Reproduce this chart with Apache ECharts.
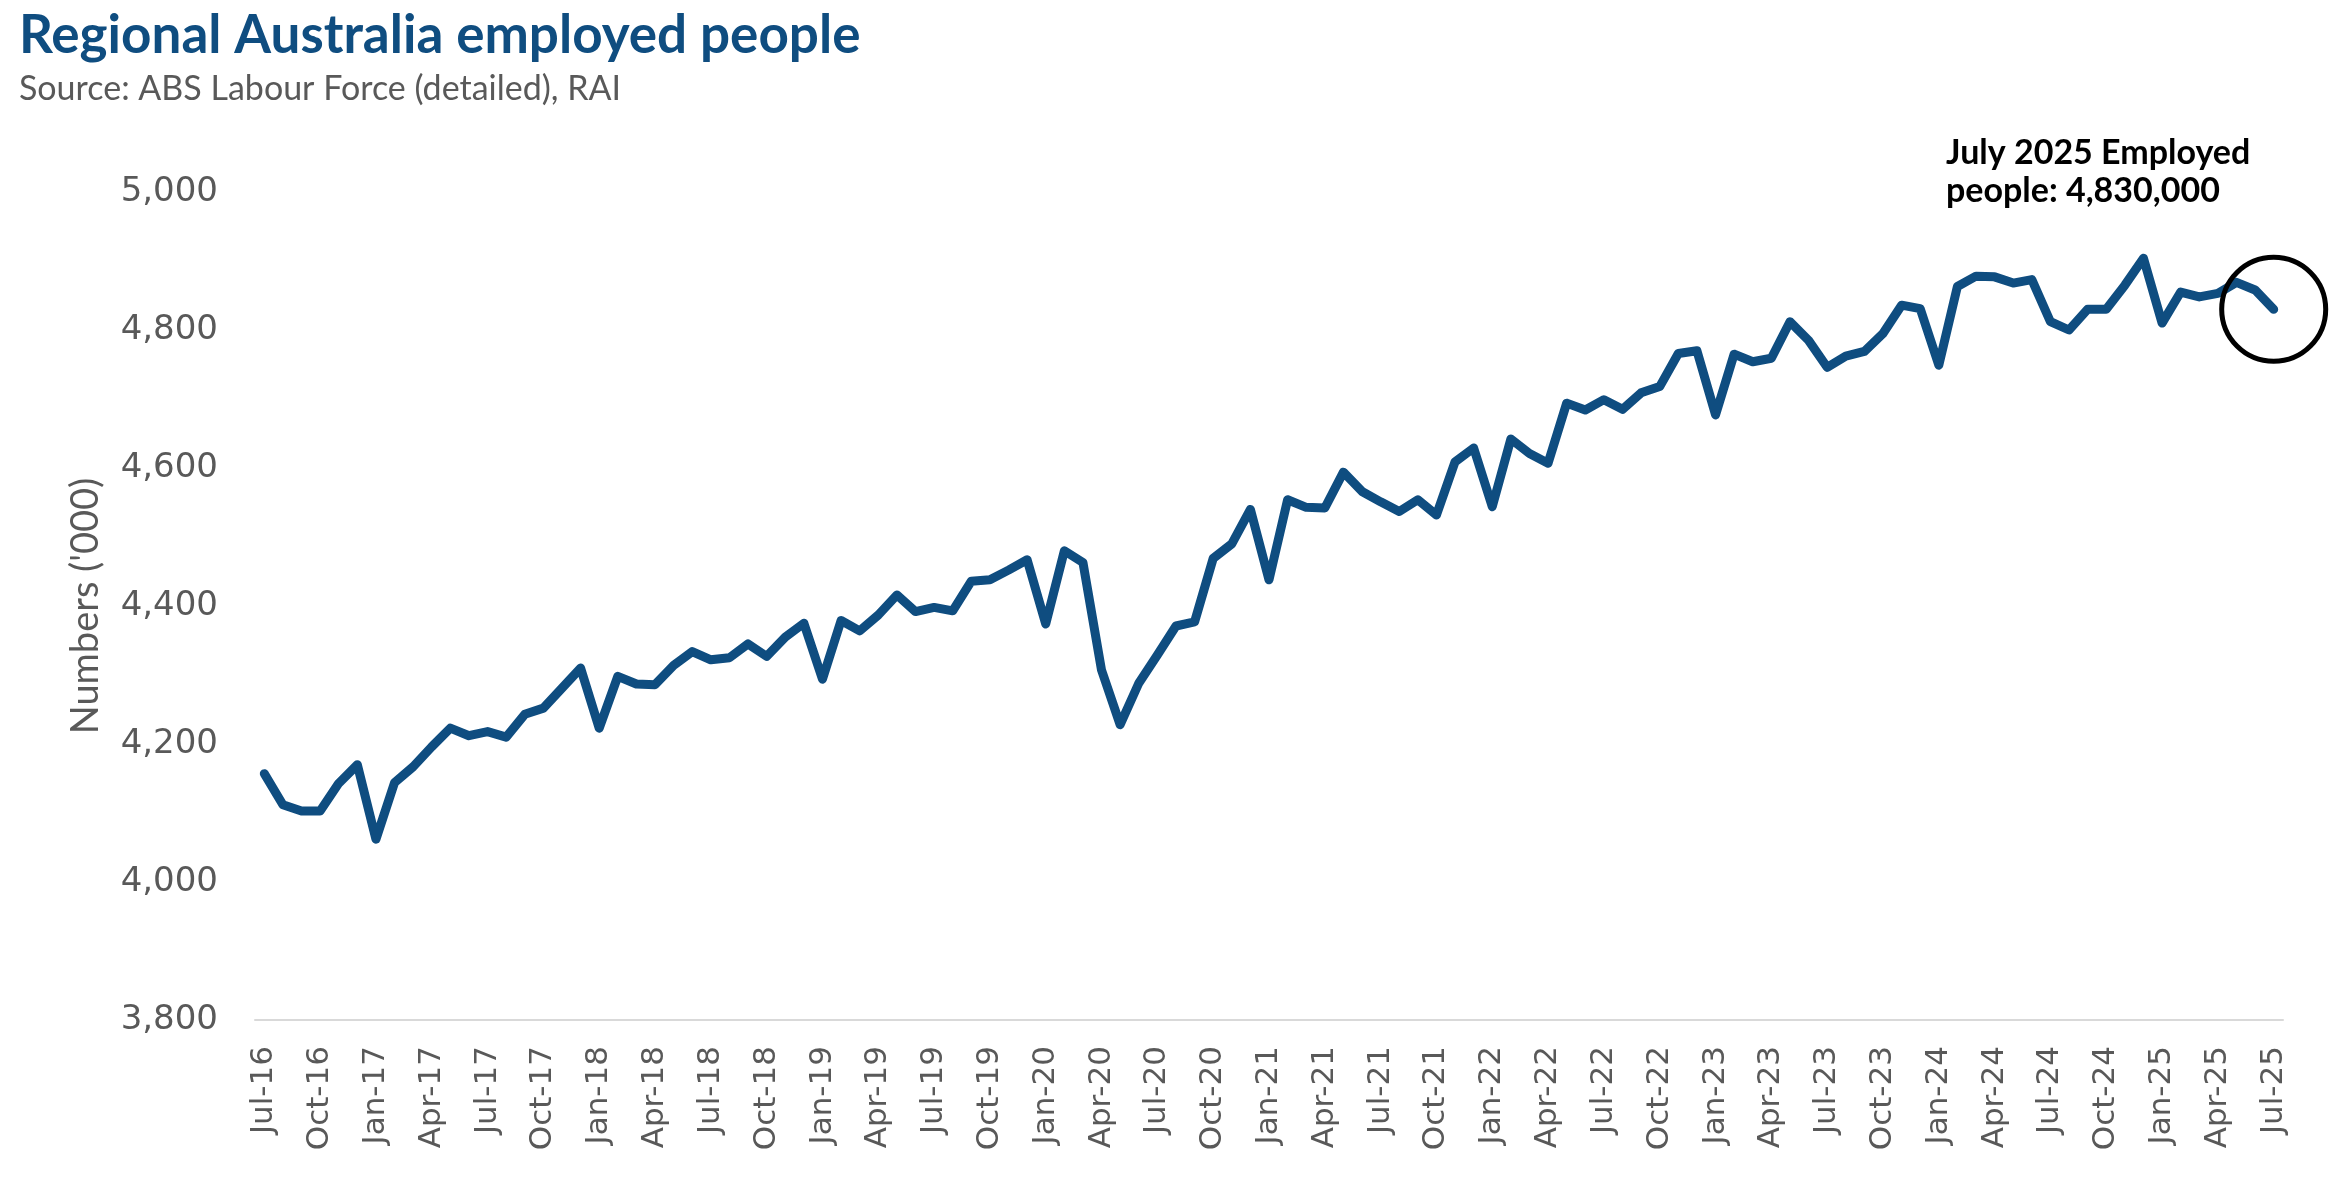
<!DOCTYPE html>
<html>
<head>
<meta charset="utf-8">
<script src="https://cdn.jsdelivr.net/npm/echarts@6/dist/echarts.min.js"></script>
<style>
  html, body { margin: 0; padding: 0; background: #fff; }
  #chart { width: 2336px; height: 1194px; }
</style>
</head>
<body>
<div id="chart"></div>
<script>
// month labels, Jul-16 .. Jul-25
const monthNames = ['Jan','Feb','Mar','Apr','May','Jun','Jul','Aug','Sep','Oct','Nov','Dec']
const startYear = 2016, startMonth = 6, monthCount = 109

// employed people ('000), regional Australia
const employed = [
  4157, 4112, 4103, 4103, 4143, 4170, 4062, 4144, 4167, 4196,
  4223, 4212, 4218, 4210, 4243, 4252, 4281, 4310, 4223, 4298,
  4287, 4286, 4314, 4334, 4322, 4325, 4345, 4327, 4355, 4375,
  4294, 4379, 4364, 4387, 4416, 4392, 4398, 4393, 4436, 4438,
  4452, 4467, 4374, 4480, 4463, 4307, 4228, 4288, 4329, 4371,
  4377, 4469, 4490, 4540, 4438, 4554, 4543, 4542, 4594, 4566,
  4551, 4537, 4554, 4532, 4609, 4629, 4544, 4642, 4621, 4607,
  4694, 4684, 4699, 4685, 4709, 4718, 4766, 4770, 4677, 4765,
  4754, 4759, 4812, 4785, 4746, 4762, 4769, 4795, 4836, 4831,
  4749, 4863, 4878, 4877, 4868, 4873, 4812, 4800, 4830, 4830,
  4865, 4904, 4810, 4855, 4848, 4853, 4869, 4858, 4830
]

const yMin = 3800, yMax = 5000, yStep = 200

const categories = []
for (let i = 0; i < monthCount; i++) {
  const m = (startMonth + i) % 12
  const y = startYear + Math.floor((startMonth + i) / 12)
  categories.push(monthNames[m] + '-' + String(y).slice(2))
}

const blue = '#0f4d80', grey = '#595959'
const chart = echarts.init(document.getElementById('chart'))

const option = {
  animation: false,
  backgroundColor: '#fff',
  title: {
    text: 'Regional Australia employed people',
    subtext: 'Source: ABS Labour Force (detailed), RAI',
    left: 14,
    top: 4,
    itemGap: 10,
    textStyle: {
      fontFamily: 'Lato',
      fontWeight: 'bold',
      fontSize: 53,
      color: blue
    },
    subtextStyle: {
      fontFamily: 'Lato',
      fontSize: 34,
      color: grey
    }
  },
  grid: {
    left: 255,
    right: 53,
    top: 192,
    bottom: 174,
    outerBoundsMode: 'none'
  },
  xAxis: {
    type: 'category',
    data: categories,
    boundaryGap: true,
    axisLine: {
      lineStyle: { color: '#d9d9d9', width: 2 }
    },
    axisTick: {
      interval: 2,
      length: 10,
      lineStyle: { color: '#d9d9d9', width: 2 }
    },
    axisLabel: {
      interval: 2,
      rotate: 90,
      margin: 26,
      fontFamily: 'DejaVu Sans',
      fontSize: 31,
      color: grey
    },
    splitLine: { show: false }
  },
  yAxis: {
    type: 'value',
    min: yMin,
    max: yMax,
    interval: yStep,
    name: "Numbers ('000)",
    nameLocation: 'middle',
    nameGap: 150,
    nameTextStyle: {
      fontFamily: 'Lato',
      fontSize: 38,
      color: grey
    },
    axisLine: { show: false },
    axisTick: { show: false },
    splitLine: { show: false },
    axisLabel: {
      margin: 37,
      fontFamily: 'DejaVu Sans',
      fontSize: 34,
      color: grey,
      formatter: v => v.toLocaleString('en-US')
    }
  },
  series: [{
    name: 'Employed',
    type: 'line',
    data: employed,
    symbol: 'none',
    lineStyle: {
      color: blue,
      width: 9,
      cap: 'round',
      join: 'round'
    },
    markPoint: {
      symbol: 'circle',
      symbolSize: 104,
      silent: true,
      itemStyle: {
        color: 'rgba(0,0,0,0)',
        borderColor: '#000',
        borderWidth: 5
      },
      label: { show: false },
      data: [{ coord: [categories[monthCount - 1], employed[monthCount - 1]] }]
    }
  }],
  graphic: [{
    type: 'text',
    left: 1946,
    top: 134,
    style: {
      text: 'July 2025 Employed\npeople: 4,830,000',
      fontFamily: 'Lato',
      fontWeight: 'bold',
      fontSize: 34,
      lineHeight: 38,
      fill: '#000'
    }
  }]
}

chart.setOption(option)
</script>
</body>
</html>
